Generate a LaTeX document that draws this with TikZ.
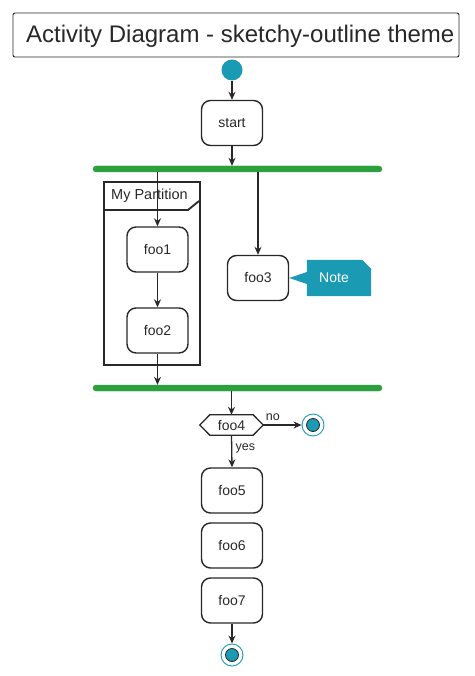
\documentclass[tikz,border=0pt]{standalone}
\usepackage{fontspec}
\setmainfont{Liberation Sans}
\usetikzlibrary{arrows.meta}
\definecolor{teal1}{RGB}{27,154,180}
\definecolor{bargreen}{RGB}{43,160,60}
\definecolor{ink}{RGB}{40,40,40}
\begin{document}
\begin{tikzpicture}[x=1pt,y=-1pt,
  act/.style={draw=ink, line width=1.4pt, rounded corners=9pt, minimum width=61pt, minimum height=45pt, inner sep=0pt, font=\fontsize{14}{16}\selectfont, text=ink},
  forkbar/.style={fill=bargreen, draw=bargreen, rounded corners=3pt, minimum width=289pt, minimum height=6pt, inner sep=0pt},
  arr/.style={draw=ink, line width=1.3pt, -{Stealth[length=8pt,width=7pt]}},
  lbl/.style={font=\fontsize{12.5}{14}\selectfont, text=ink},
  endring/.style={circle, draw=teal1, fill=white, line width=0.9pt, minimum size=22pt, inner sep=0pt},
  enddot/.style={circle, draw=ink, fill=teal1, line width=0.8pt, minimum size=13pt, inner sep=0pt}
]
\useasboundingbox (0,0) rectangle (474,676);

% title
\node[draw=ink, line width=0.9pt, rounded corners=2pt, minimum width=446pt, minimum height=44pt, inner sep=0pt] (titlebox) at (236,35) {};
\node[anchor=west, font=\fontsize{24}{27}\selectfont, text=ink, inner sep=0pt] (titletext) at (26,36) {Activity Diagram - sketchy-outline theme};

% start
\node[circle, fill=teal1, minimum size=21pt, inner sep=0pt] (init) at (232,70) {};
\node[act] (start) at (232,123) {start};
\node[forkbar] (bar1) at (237.5,169) {};

% partition
\node[draw=ink, line width=2pt, minimum width=96pt, minimum height=183pt, inner sep=0pt] (part) at (152,273.5) {};
\node[anchor=west, font=\fontsize{14.5}{16}\selectfont, text=ink, inner sep=0pt] (parttitle) at (111,196) {My Partition};
\draw[ink, line width=1.8pt] (part.west |- 0,210) -- (188,210) -- (199,201);

\node[act] (foo1) at (157.5,249.5) {foo1};
\node[act] (foo2) at (157.5,330.5) {foo2};
\node[act] (foo3) at (258,278) {foo3};

% note
\node[inner sep=0pt, minimum width=64pt, minimum height=36pt] (note) at (339,278) {};
\fill[teal1] (note.north west) -- ([xshift=-9pt]note.north east) -- ([yshift=-9pt]note.north east) -- (note.south east) -- (note.south west) -- ([yshift=-6pt]note.west) -- (foo3.east) -- ([yshift=6pt]note.west) -- cycle;
\node[inner sep=0pt, font=\fontsize{14}{16}\selectfont, text=white] (notetext) at ([xshift=-5pt]note.center) {Note};

\node[forkbar] (bar2) at (237.5,388) {};

% decision
\node[inner sep=0pt, minimum width=63pt, minimum height=20pt, font=\fontsize{14}{16}\selectfont, text=ink] (foo4) at (231.5,425) {foo4};
\draw[ink, line width=1.3pt] (foo4.west) -- ([xshift=10pt]foo4.north west) -- ([xshift=-10pt]foo4.north east) -- (foo4.east) -- ([xshift=-10pt]foo4.south east) -- ([xshift=10pt]foo4.south west) -- cycle;

\node[endring] (end1) at (313,425) {};
\node[enddot] (end1dot) at (end1.center) {};

\node[act] (foo5) at (232,490.5) {foo5};
\node[act] (foo6) at (232,545.5) {foo6};
\node[act] (foo7) at (232,600.5) {foo7};

\node[endring] (end2) at (232,655) {};
\node[enddot] (end2dot) at (end2.center) {};

% connectors
\draw[arr] (init) -- (start);
\draw[arr] (start.south) -- (start.south |- bar1.north);
\draw[arr] (bar1.south -| foo1.north) -- (foo1.north);
\draw[arr] (bar1.south -| foo3.north) -- (foo3.north);
\draw[arr] (foo1) -- (foo2);
\draw[arr] (foo2.south) -- (foo2.south |- bar2.north);
\draw[arr] (bar2.south -| foo4.north) -- (foo4.north);
\draw[arr] (foo4.east) -- node[lbl, above, pos=0.25] {no} (end1);
\draw[arr] (foo4.south) -- node[lbl, right, pos=0.4] {yes} (foo5.north);
\draw[arr] (foo7) -- (end2);
\end{tikzpicture}
\end{document}
